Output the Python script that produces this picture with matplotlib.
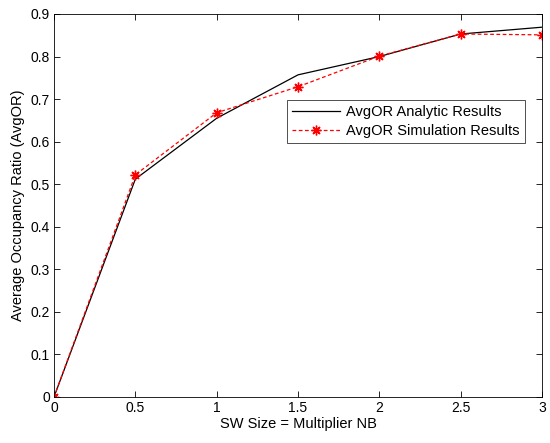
import matplotlib
matplotlib.use("Agg")
import matplotlib.pyplot as plt

plt.rcParams['font.family'] = ['Liberation Sans', 'DejaVu Sans']

x = [0, 0.5, 1, 1.5, 2, 2.5, 3]
analytic = [0, 0.512, 0.655, 0.757, 0.800, 0.853, 0.869]
simulation = [0, 0.522, 0.668, 0.729, 0.801, 0.853, 0.851]

fig = plt.figure(figsize=(5.5, 4.43), dpi=100)
ax = fig.add_axes([54/550, 1 - 397/443, (542-54)/550, (397-14)/443])

ax.plot(x, analytic, color='black', lw=0.9, label='AvgOR Analytic Results')
ax.plot(x, simulation, color='red', lw=0.9, ls=(0, (3, 2)), marker=(8, 2, 0),
        markersize=7, markeredgewidth=1.0, label='AvgOR Simulation Results')

ax.set_xlim(0, 3)
ax.set_ylim(0, 0.9)
ax.set_xticks([0, 0.5, 1, 1.5, 2, 2.5, 3])
ax.set_xticklabels(['0', '0.5', '1', '1.5', '2', '2.5', '3'])
ax.set_yticks([i / 10 for i in range(10)])
ax.set_yticklabels(['0', '0.1', '0.2', '0.3', '0.4', '0.5', '0.6', '0.7', '0.8', '0.9'])
ax.tick_params(direction='in', top=True, right=True, labelsize=10, length=4, width=0.6,
               pad=3)
for s in ax.spines.values():
    s.set_linewidth(0.6)

ax.set_xlabel('SW Size = Multiplier NB', fontsize=10.5, labelpad=1)
ax.set_ylabel('Average Occupancy Ratio (AvgOR)', fontsize=10.5, labelpad=4)

leg = ax.legend(loc='upper left', bbox_to_anchor=((287-54)/488, 1 - (100-14)/383),
                fontsize=10.5, frameon=True, fancybox=False, edgecolor='black',
                borderaxespad=0, handlelength=3.3, borderpad=0.35, labelspacing=0.35,
                handletextpad=0.4)
leg.get_frame().set_linewidth(0.6)

fig.savefig('out.png', dpi=100)
